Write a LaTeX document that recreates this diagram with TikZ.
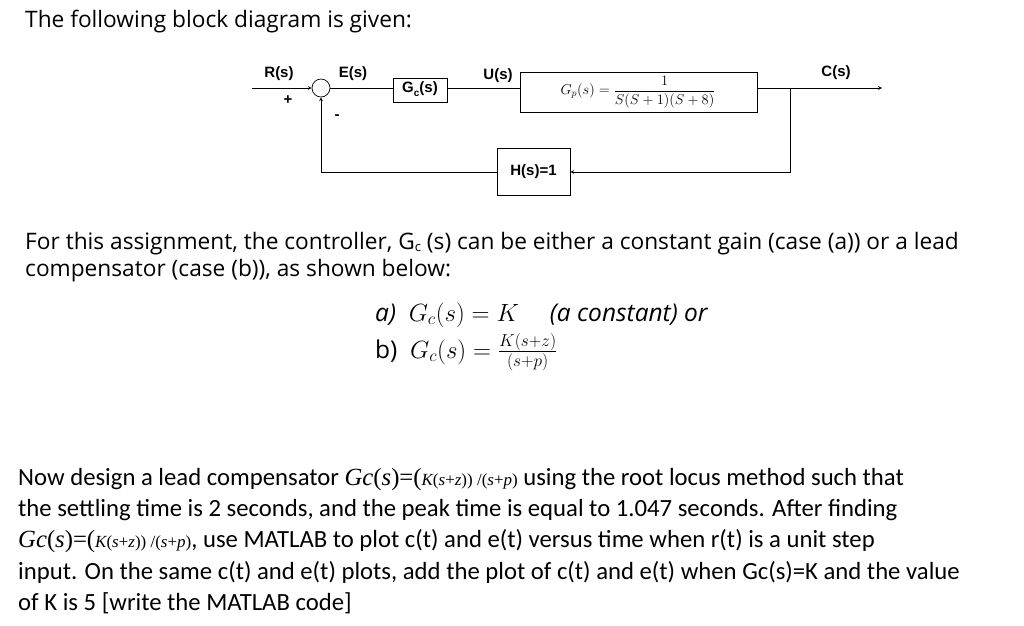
\documentclass[tikz,border=0pt]{standalone}
\usepackage{fontspec}
\usepackage{amsmath}
\setmainfont{Open Sans}
\newfontfamily\arialf{Liberation Sans}
\newfontfamily\calf{Carlito}
\newfontfamily\timesf{Liberation Serif}
\newcommand{\sm}[1]{{\timesf\fontsize{17}{17}\selectfont #1}}
\newcommand{\smi}[1]{{\timesf\itshape\fontsize{17}{17}\selectfont #1}}
\newcommand{\gcfrac}{{\timesf\itshape Gc}{\timesf(}{\timesf\itshape s}{\timesf)=(}\smi{K}\sm{(}\smi{s}\sm{+}\smi{z}\sm{))~/(}\smi{s}\sm{+}\smi{p}\sm{)}}
\begin{document}
\begin{tikzpicture}[x=1pt,y=-1pt,
  blk/.style={draw,line width=0.7pt,minimum height=0pt,inner sep=0pt},
  lbl/.style={font=\arialf\bfseries\fontsize{15}{15}\selectfont,inner sep=0pt},
  txt/.style={anchor=west,inner sep=0pt,font=\fontsize{22.7}{22.7}\selectfont},
  btxt/.style={anchor=west,inner sep=0pt,font=\calf\fontsize{24.7}{24.7}\selectfont},
  line/.style={line width=0.7pt},
  arr/.style={line width=0.7pt,->,>=stealth}]
\useasboundingbox (0,0) rectangle (1024,625);
\node[txt] (t1) at (25,22) {The following block diagram is given:};
% diagram
\coordinate (rin) at (252,88);
\node[draw,circle,minimum size=18pt,inner sep=0pt,line width=0.7pt] (sum) at (321,88) {};
\node[blk,minimum width=54pt,minimum height=24pt] (gc) at (420,90) {};
\node[lbl] (gct) at (420,89) {G\raisebox{-4pt}{\fontsize{10}{10}\selectfont c}(s)};
\node[blk,minimum width=237pt,minimum height=40pt] (gp) at (638.5,92) {};
\node[inner sep=0pt] (gpt) at (638,92) {\timesf\fontsize{14}{14}\selectfont $G_p(s)=\dfrac{1}{S(S+1)(S+8)}$};
\node[blk,minimum width=73pt,minimum height=47pt] (h) at (533.5,172) {};
\node[lbl] (ht) at (533.5,172) {H(s)=1};
\coordinate (jn) at (790,88);
\coordinate (cout) at (882,88);
\coordinate (fbr) at (790,172);
\coordinate (fbl) at (321,172);
\draw[arr] (rin) -- (sum.west);
\draw[line] (sum.east) -- (gc.west|-sum.east);
\draw[line] (gc.east|-sum) -- (gp.west|-sum);
\draw[line] (gp.east|-sum) -- (jn);
\draw[arr] (jn) -- (cout);
\draw[arr] (jn) -- (fbr) -- (h.east);
\draw[arr] (h.west) -- (fbl) -- (sum.south);
\node[lbl] (rl) at (279,74) {R(s)};
\node[lbl] (pl) at (288,100) {+};
\node[lbl] (ml) at (337,117) {-};
\node[lbl] (el) at (353,74) {E(s)};
\node[lbl] (ul) at (498,76) {U(s)};
\node[lbl] (cl) at (836,73) {C(s)};
% texts
\node[txt] (t2) at (25,244) {For this assignment, the controller, G\raisebox{-2pt}{\fontsize{13}{13}\selectfont c} (s) can be either a constant gain (case (a)) or a lead};
\node[txt] (t3) at (25,271) {compensator (case (b)), as shown below:};
\node[txt] (a) at (375,315) {\fontsize{24.5}{24.5}\selectfont\itshape a)\ \ $G_c(s)=K$\quad\ (a constant) or};
\node[txt] (b) at (375,352) {\fontsize{24.5}{24.5}\selectfont b)\ \ $G_c(s)=\frac{K(s+z)}{(s+p)}$};
\node[btxt] (p1) at (18,480) {Now design a lead compensator \gcfrac{} using the root locus method such that};
\node[btxt] (p2) at (18,510) {the settling time is 2 seconds, and the peak time is equal to 1.047 seconds. After finding};
\node[btxt] (p3) at (18,541) {\gcfrac, use MATLAB to plot c(t) and e(t) versus time when r(t) is a unit step};
\node[btxt] (p4) at (18,572) {input. On the same c(t) and e(t) plots, add the plot of c(t) and e(t) when Gc(s)=K and the value};
\node[btxt] (p5) at (18,603) {of K is 5 [write the MATLAB code]};
\end{tikzpicture}
\end{document}
